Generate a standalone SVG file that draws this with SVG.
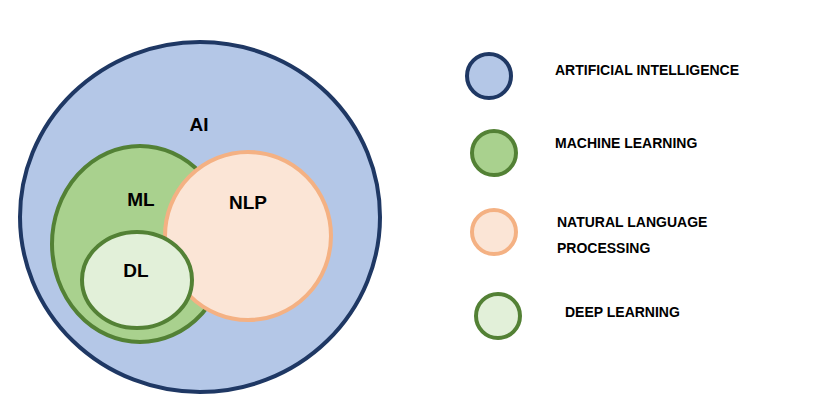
<svg xmlns="http://www.w3.org/2000/svg" width="831" height="405" viewBox="0 0 831 405">
<style>
text{font-family:"Liberation Sans",Arial,sans-serif;font-weight:bold;fill:#000}
.lbl{font-size:19px}
.leg{font-size:14px}
.ai{fill:#b4c7e7;stroke:#1f3864;stroke-width:4}
.ml{fill:#a9d18e;stroke:#538135;stroke-width:4}
.nlp{fill:#fbe5d6;stroke:#f4b183;stroke-width:4}
.dl{fill:#e2f0d9;stroke:#538135;stroke-width:4}
</style>
<rect width="831" height="405" fill="#fff"/>
<g id="ai"><ellipse class="ai" cx="200" cy="217" rx="180" ry="175"/><text class="lbl" x="199" y="131" text-anchor="middle">AI</text></g>
<g id="ml"><ellipse class="ml" cx="140" cy="244" rx="88" ry="98"/><text class="lbl" x="141" y="206" text-anchor="middle">ML</text></g>
<g id="nlp"><ellipse class="nlp" cx="248" cy="236" rx="83" ry="84"/><text class="lbl" x="248" y="209" text-anchor="middle">NLP</text></g>
<g id="dl"><ellipse class="dl" cx="137" cy="280" rx="55" ry="48"/><text class="lbl" x="136" y="277" text-anchor="middle">DL</text></g>
<g id="legend-ai"><circle class="ai" cx="489" cy="76" r="22"/><text class="leg" x="555" y="75">ARTIFICIAL INTELLIGENCE</text></g>
<g id="legend-ml"><circle class="ml" cx="494" cy="153" r="22"/><text class="leg" x="555" y="148">MACHINE LEARNING</text></g>
<g id="legend-nlp"><circle class="nlp" cx="494" cy="232" r="22"/><text class="leg" x="557" y="227">NATURAL LANGUAGE</text><text class="leg" x="557" y="253">PROCESSING</text></g>
<g id="legend-dl"><circle class="dl" cx="498" cy="316" r="22"/><text class="leg" x="565" y="317">DEEP LEARNING</text></g>
<g id="connectors"/>
</svg>
